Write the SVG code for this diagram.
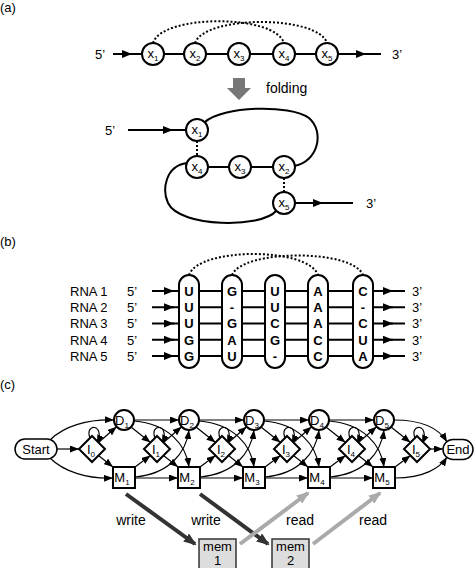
<svg xmlns="http://www.w3.org/2000/svg" xmlns:xlink="http://www.w3.org/1999/xlink" width="474" height="568" viewBox="0 0 474 568">
<style>
text,tspan{font-family:"Liberation Sans",Arial,sans-serif;fill:#000}
.t{font-size:13px}
.lbl{font-size:14px}
.c{text-anchor:middle}
.b{font-weight:bold;font-size:13px;text-anchor:middle}
.n{fill:#fff;stroke:#000;stroke-width:2}
.l{fill:none;stroke:#000;stroke-width:2}
.e{fill:none;stroke:#000;stroke-width:1.2}
.dot{fill:none;stroke:#000;stroke-width:2;stroke-dasharray:2 2}
.wr{fill:none;stroke:#333;stroke-width:4}
.rd{fill:none;stroke:#aaa;stroke-width:4}
.mem{fill:#ddd;stroke:#333;stroke-width:1.5}
</style>
<defs>
<marker id="ab" markerUnits="userSpaceOnUse" markerWidth="10" markerHeight="8" refX="10" refY="4" orient="auto"><path d="M0,0 L10,4 L0,8 Z" fill="#000"/></marker>
<marker id="as" markerUnits="userSpaceOnUse" markerWidth="9" markerHeight="7" refX="9" refY="3.5" orient="auto"><path d="M0,0 L9,3.5 L0,7 Z" fill="#000"/></marker>
<marker id="aw" markerUnits="userSpaceOnUse" markerWidth="13" markerHeight="10" refX="11" refY="5" orient="auto"><path d="M0,0 L13,5 L0,10 Z" fill="#333"/></marker>
<marker id="ar" markerUnits="userSpaceOnUse" markerWidth="13" markerHeight="10" refX="11" refY="5" orient="auto"><path d="M0,0 L13,5 L0,10 Z" fill="#aaa"/></marker>
</defs>

<!-- (a) -->
<text class="t" x="0" y="12">(a)</text>
<g id="connectors-a">
<line class="l" x1="113" y1="54" x2="132" y2="54" marker-end="url(#ab)"/>
<line class="l" x1="130" y1="54" x2="142" y2="54"/>
<line class="l" x1="164" y1="54" x2="184" y2="54"/>
<line class="l" x1="206" y1="54" x2="228" y2="54"/>
<line class="l" x1="250" y1="54" x2="273" y2="54"/>
<line class="l" x1="295" y1="54" x2="316" y2="54"/>
<line class="l" x1="338" y1="54" x2="366" y2="54" marker-end="url(#ab)"/>
<line class="l" x1="364" y1="54" x2="381" y2="54"/>
<path class="dot" d="M153,43 C162,14 275,14 284,43"/>
<path class="dot" d="M195,43 C205,15 318,15 327,43"/>
</g>
<text class="t c" x="100" y="59">5’</text>
<text class="t c" x="397" y="59">3’</text>
<g id="a-x1"><circle class="n" cx="153" cy="54" r="11"/><text class="t c" x="153" y="58">x<tspan font-size="8" dy="3">1</tspan></text></g>
<g id="a-x2"><circle class="n" cx="195" cy="54" r="11"/><text class="t c" x="195" y="58">x<tspan font-size="8" dy="3">2</tspan></text></g>
<g id="a-x3"><circle class="n" cx="239" cy="54" r="11"/><text class="t c" x="239" y="58">x<tspan font-size="8" dy="3">3</tspan></text></g>
<g id="a-x4"><circle class="n" cx="284" cy="54" r="11"/><text class="t c" x="284" y="58">x<tspan font-size="8" dy="3">4</tspan></text></g>
<g id="a-x5"><circle class="n" cx="327" cy="54" r="11"/><text class="t c" x="327" y="58">x<tspan font-size="8" dy="3">5</tspan></text></g>

<g id="folding-arrow"><path d="M233,78 H245 V88 H251 L239,100 L227,88 H233 Z" fill="#777"/></g>
<text class="lbl" x="266" y="93">folding</text>

<g id="connectors-a2">
<line class="l" x1="128" y1="130" x2="173" y2="130" marker-end="url(#ab)"/>
<line class="l" x1="171" y1="130" x2="186" y2="130"/>
<line class="l" x1="208" y1="167" x2="229" y2="167"/>
<line class="l" x1="251" y1="167" x2="273" y2="167"/>
<line class="dot" x1="197" y1="141" x2="197" y2="156"/>
<line class="dot" x1="284" y1="178" x2="284" y2="192"/>
<path class="l" d="M205,122 C222,106 290,104 309,118 C325,132 318,162 294,166"/>
<path class="l" d="M187,163 C165,166 162,190 168,203 C180,228 262,228 276,211"/>
<line class="l" x1="295" y1="203" x2="323" y2="203" marker-end="url(#ab)"/>
<line class="l" x1="321" y1="203" x2="353" y2="203"/>
</g>
<text class="t c" x="110" y="135">5’</text>
<text class="t c" x="371" y="208">3’</text>
<g id="b-x1"><circle class="n" cx="197" cy="130" r="11"/><text class="t c" x="197" y="134">x<tspan font-size="8" dy="3">1</tspan></text></g>
<g id="b-x4"><circle class="n" cx="197" cy="167" r="11"/><text class="t c" x="197" y="171">x<tspan font-size="8" dy="3">4</tspan></text></g>
<g id="b-x3"><circle class="n" cx="240" cy="167" r="11"/><text class="t c" x="240" y="171">x<tspan font-size="8" dy="3">3</tspan></text></g>
<g id="b-x2"><circle class="n" cx="284" cy="167" r="11"/><text class="t c" x="284" y="171">x<tspan font-size="8" dy="3">2</tspan></text></g>
<g id="b-x5"><circle class="n" cx="284" cy="203" r="11"/><text class="t c" x="284" y="207">x<tspan font-size="8" dy="3">5</tspan></text></g>

<!-- (b) -->
<text class="t" x="0" y="246">(b)</text>
<g id="connectors-b">
<path class="dot" d="M189,275 C199,247 308,247 318,275"/>
<path class="dot" d="M232,275 C243,249 353,249 363,275"/>
<g>
<line class="l" x1="152" y1="291" x2="174" y2="291" marker-end="url(#ab)"/><line class="l" x1="172" y1="291" x2="179" y2="291"/>
<line class="l" x1="152" y1="307.25" x2="174" y2="307.25" marker-end="url(#ab)"/><line class="l" x1="172" y1="307.25" x2="179" y2="307.25"/>
<line class="l" x1="152" y1="323.5" x2="174" y2="323.5" marker-end="url(#ab)"/><line class="l" x1="172" y1="323.5" x2="179" y2="323.5"/>
<line class="l" x1="152" y1="339.75" x2="174" y2="339.75" marker-end="url(#ab)"/><line class="l" x1="172" y1="339.75" x2="179" y2="339.75"/>
<line class="l" x1="152" y1="356" x2="174" y2="356" marker-end="url(#ab)"/><line class="l" x1="172" y1="356" x2="179" y2="356"/>
</g>
<g>
<line class="l" x1="199" y1="291" x2="222" y2="291"/><line class="l" x1="242" y1="291" x2="265" y2="291"/><line class="l" x1="285" y1="291" x2="308" y2="291"/><line class="l" x1="328" y1="291" x2="353" y2="291"/>
<line class="l" x1="199" y1="307.25" x2="222" y2="307.25"/><line class="l" x1="242" y1="307.25" x2="265" y2="307.25"/><line class="l" x1="285" y1="307.25" x2="308" y2="307.25"/><line class="l" x1="328" y1="307.25" x2="353" y2="307.25"/>
<line class="l" x1="199" y1="323.5" x2="222" y2="323.5"/><line class="l" x1="242" y1="323.5" x2="265" y2="323.5"/><line class="l" x1="285" y1="323.5" x2="308" y2="323.5"/><line class="l" x1="328" y1="323.5" x2="353" y2="323.5"/>
<line class="l" x1="199" y1="339.75" x2="222" y2="339.75"/><line class="l" x1="242" y1="339.75" x2="265" y2="339.75"/><line class="l" x1="285" y1="339.75" x2="308" y2="339.75"/><line class="l" x1="328" y1="339.75" x2="353" y2="339.75"/>
<line class="l" x1="199" y1="356" x2="222" y2="356"/><line class="l" x1="242" y1="356" x2="265" y2="356"/><line class="l" x1="285" y1="356" x2="308" y2="356"/><line class="l" x1="328" y1="356" x2="353" y2="356"/>
</g>
<g>
<line class="l" x1="373" y1="291" x2="393" y2="291" marker-end="url(#ab)"/><line class="l" x1="391" y1="291" x2="405" y2="291"/>
<line class="l" x1="373" y1="307.25" x2="393" y2="307.25" marker-end="url(#ab)"/><line class="l" x1="391" y1="307.25" x2="405" y2="307.25"/>
<line class="l" x1="373" y1="323.5" x2="393" y2="323.5" marker-end="url(#ab)"/><line class="l" x1="391" y1="323.5" x2="405" y2="323.5"/>
<line class="l" x1="373" y1="339.75" x2="393" y2="339.75" marker-end="url(#ab)"/><line class="l" x1="391" y1="339.75" x2="405" y2="339.75"/>
<line class="l" x1="373" y1="356" x2="393" y2="356" marker-end="url(#ab)"/><line class="l" x1="391" y1="356" x2="405" y2="356"/>
</g>
</g>
<g id="rna-labels">
<text class="t" x="70" y="296">RNA 1</text><text class="t c" x="132" y="296">5’</text><text class="t c" x="417" y="296">3’</text>
<text class="t" x="70" y="312">RNA 2</text><text class="t c" x="132" y="312">5’</text><text class="t c" x="417" y="312">3’</text>
<text class="t" x="70" y="328">RNA 3</text><text class="t c" x="132" y="328">5’</text><text class="t c" x="417" y="328">3’</text>
<text class="t" x="70" y="345">RNA 4</text><text class="t c" x="132" y="345">5’</text><text class="t c" x="417" y="345">3’</text>
<text class="t" x="70" y="361">RNA 5</text><text class="t c" x="132" y="361">5’</text><text class="t c" x="417" y="361">3’</text>
</g>
<g id="col1"><rect class="n" x="179" y="275" width="20" height="93" rx="10"/>
<text class="b" x="189" y="296">U</text><text class="b" x="189" y="312">U</text><text class="b" x="189" y="328">U</text><text class="b" x="189" y="345">G</text><text class="b" x="189" y="361">G</text></g>
<g id="col2"><rect class="n" x="222" y="275" width="20" height="93" rx="10"/>
<text class="b" x="232" y="296">G</text><text class="b" x="232" y="312">-</text><text class="b" x="232" y="328">G</text><text class="b" x="232" y="345">A</text><text class="b" x="232" y="361">U</text></g>
<g id="col3"><rect class="n" x="265" y="275" width="20" height="93" rx="10"/>
<text class="b" x="275" y="296">U</text><text class="b" x="275" y="312">U</text><text class="b" x="275" y="328">C</text><text class="b" x="275" y="345">G</text><text class="b" x="275" y="361">-</text></g>
<g id="col4"><rect class="n" x="308" y="275" width="20" height="93" rx="10"/>
<text class="b" x="318" y="296">A</text><text class="b" x="318" y="312">A</text><text class="b" x="318" y="328">A</text><text class="b" x="318" y="345">C</text><text class="b" x="318" y="361">C</text></g>
<g id="col5"><rect class="n" x="353" y="275" width="20" height="93" rx="10"/>
<text class="b" x="363" y="296">C</text><text class="b" x="363" y="312">-</text><text class="b" x="363" y="328">C</text><text class="b" x="363" y="345">U</text><text class="b" x="363" y="361">A</text></g>

<!-- (c) -->
<text class="t" x="0" y="389">(c)</text>
<g id="connectors-c">
<line class="e" x1="57" y1="449" x2="79" y2="449" marker-end="url(#as)"/>
<path class="e" d="M50,440 C64,426 88,419 114,420" marker-end="url(#as)"/>
<path class="e" d="M50,458 C64,472 88,479 113,478" marker-end="url(#as)"/>
<path class="e" d="M90,438 C84,423 106,423 97,444" marker-end="url(#as)"/>
<path class="e" d="M155,438 C149,423 171,423 162,444" marker-end="url(#as)"/>
<path class="e" d="M220,438 C214,423 236,423 227,444" marker-end="url(#as)"/>
<path class="e" d="M285,438 C279,423 301,423 292,444" marker-end="url(#as)"/>
<path class="e" d="M350,438 C344,423 366,423 357,444" marker-end="url(#as)"/>
<path class="e" d="M415,438 C409,423 431,423 422,444" marker-end="url(#as)"/>
<line class="e" x1="98.5" y1="442.5" x2="116.6" y2="426.7" marker-end="url(#as)"/>
<line class="e" x1="163.5" y1="442.5" x2="181.6" y2="426.7" marker-end="url(#as)"/>
<line class="e" x1="228.5" y1="442.5" x2="246.6" y2="426.7" marker-end="url(#as)"/>
<line class="e" x1="293.5" y1="442.5" x2="311.6" y2="426.7" marker-end="url(#as)"/>
<line class="e" x1="358.5" y1="442.5" x2="376.6" y2="426.7" marker-end="url(#as)"/>
<line class="e" x1="98.5" y1="455.5" x2="113" y2="467" marker-end="url(#as)"/>
<line class="e" x1="163.5" y1="455.5" x2="178" y2="467" marker-end="url(#as)"/>
<line class="e" x1="228.5" y1="455.5" x2="243" y2="467" marker-end="url(#as)"/>
<line class="e" x1="293.5" y1="455.5" x2="308" y2="467" marker-end="url(#as)"/>
<line class="e" x1="358.5" y1="455.5" x2="373" y2="467" marker-end="url(#as)"/>
<line class="e" x1="131" y1="427" x2="150.5" y2="442.5" marker-end="url(#as)"/>
<line class="e" x1="196" y1="427" x2="215.5" y2="442.5" marker-end="url(#as)"/>
<line class="e" x1="261" y1="427" x2="280.5" y2="442.5" marker-end="url(#as)"/>
<line class="e" x1="326" y1="427" x2="345.5" y2="442.5" marker-end="url(#as)"/>
<line class="e" x1="391" y1="427" x2="410.5" y2="442.5" marker-end="url(#as)"/>
<line class="e" x1="135" y1="467" x2="150.5" y2="455.5" marker-end="url(#as)"/>
<line class="e" x1="200" y1="467" x2="215.5" y2="455.5" marker-end="url(#as)"/>
<line class="e" x1="265" y1="467" x2="280.5" y2="455.5" marker-end="url(#as)"/>
<line class="e" x1="330" y1="467" x2="345.5" y2="455.5" marker-end="url(#as)"/>
<line class="e" x1="395" y1="467" x2="410.5" y2="455.5" marker-end="url(#as)"/>
<line class="e" x1="134" y1="420" x2="179" y2="420" marker-end="url(#as)"/>
<line class="e" x1="199" y1="420" x2="244" y2="420" marker-end="url(#as)"/>
<line class="e" x1="264" y1="420" x2="309" y2="420" marker-end="url(#as)"/>
<line class="e" x1="329" y1="420" x2="374" y2="420" marker-end="url(#as)"/>
<line class="e" x1="135" y1="478" x2="178" y2="478" marker-end="url(#as)"/>
<line class="e" x1="200" y1="478" x2="243" y2="478" marker-end="url(#as)"/>
<line class="e" x1="265" y1="478" x2="308" y2="478" marker-end="url(#as)"/>
<line class="e" x1="330" y1="478" x2="373" y2="478" marker-end="url(#as)"/>
<path class="e" d="M134,421 C169,424 186,445 189,467" marker-end="url(#as)"/>
<path class="e" d="M199,421 C234,424 251,445 254,467" marker-end="url(#as)"/>
<path class="e" d="M264,421 C299,424 316,445 319,467" marker-end="url(#as)"/>
<path class="e" d="M329,421 C364,424 381,445 384,467" marker-end="url(#as)"/>
<path class="e" d="M135,477 C169,474 186,453 189,430" marker-end="url(#as)"/>
<path class="e" d="M200,477 C234,474 251,453 254,430" marker-end="url(#as)"/>
<path class="e" d="M265,477 C299,474 316,453 319,430" marker-end="url(#as)"/>
<path class="e" d="M330,477 C364,474 381,453 384,430" marker-end="url(#as)"/>
<path class="e" d="M394,420 C424,420 440,430 447,442" marker-end="url(#as)"/>
<path class="e" d="M395,478 C424,478 440,468 447,457" marker-end="url(#as)"/>
<line class="e" x1="430" y1="449" x2="443" y2="449" marker-end="url(#as)"/>
<line class="wr" x1="126" y1="494" x2="195" y2="544" marker-end="url(#aw)"/>
<line class="wr" x1="200" y1="494" x2="268" y2="544" marker-end="url(#aw)"/>
<line class="rd" x1="240" y1="544" x2="308" y2="493" marker-end="url(#ar)"/>
<line class="rd" x1="313" y1="544" x2="380" y2="493" marker-end="url(#ar)"/>
</g>
<g id="start"><rect class="n" x="15" y="439" width="42" height="20" rx="10" style="stroke-width:1.5"/><text class="t c" x="36" y="454">Start</text></g>
<g id="end"><rect class="n" x="443" y="439.5" width="30" height="20" rx="10" style="stroke-width:1.5"/><text class="t c" x="458" y="454">End</text></g>
<g id="D1"><circle class="n" cx="124" cy="420" r="10"/><text class="t c" x="122" y="425">D<tspan font-size="8" dy="3">1</tspan></text></g>
<g id="D2"><circle class="n" cx="189" cy="420" r="10"/><text class="t c" x="187" y="425">D<tspan font-size="8" dy="3">2</tspan></text></g>
<g id="D3"><circle class="n" cx="254" cy="420" r="10"/><text class="t c" x="252" y="425">D<tspan font-size="8" dy="3">3</tspan></text></g>
<g id="D4"><circle class="n" cx="319" cy="420" r="10"/><text class="t c" x="317" y="425">D<tspan font-size="8" dy="3">4</tspan></text></g>
<g id="D5"><circle class="n" cx="384" cy="420" r="10"/><text class="t c" x="382" y="425">D<tspan font-size="8" dy="3">5</tspan></text></g>
<g id="I0"><path class="n" d="M92,436 L105,449 L92,462 L79,449 Z"/><text class="t c" x="91" y="454">I<tspan font-size="8" dy="3">0</tspan></text></g>
<g id="I1"><path class="n" d="M157,436 L170,449 L157,462 L144,449 Z"/><text class="t c" x="156" y="454">I<tspan font-size="8" dy="3">1</tspan></text></g>
<g id="I2"><path class="n" d="M222,436 L235,449 L222,462 L209,449 Z"/><text class="t c" x="221" y="454">I<tspan font-size="8" dy="3">2</tspan></text></g>
<g id="I3"><path class="n" d="M287,436 L300,449 L287,462 L274,449 Z"/><text class="t c" x="286" y="454">I<tspan font-size="8" dy="3">3</tspan></text></g>
<g id="I4"><path class="n" d="M352,436 L365,449 L352,462 L339,449 Z"/><text class="t c" x="351" y="454">I<tspan font-size="8" dy="3">4</tspan></text></g>
<g id="I5"><path class="n" d="M417,436 L430,449 L417,462 L404,449 Z"/><text class="t c" x="416" y="454">I<tspan font-size="8" dy="3">5</tspan></text></g>
<g id="M1"><rect class="n" x="113" y="467" width="22" height="21"/><text class="t c" x="122" y="482">M<tspan font-size="8" dy="3">1</tspan></text></g>
<g id="M2"><rect class="n" x="178" y="467" width="22" height="21"/><text class="t c" x="187" y="482">M<tspan font-size="8" dy="3">2</tspan></text></g>
<g id="M3"><rect class="n" x="243" y="467" width="22" height="21"/><text class="t c" x="252" y="482">M<tspan font-size="8" dy="3">3</tspan></text></g>
<g id="M4"><rect class="n" x="308" y="467" width="22" height="21"/><text class="t c" x="317" y="482">M<tspan font-size="8" dy="3">4</tspan></text></g>
<g id="M5"><rect class="n" x="373" y="467" width="22" height="21"/><text class="t c" x="382" y="482">M<tspan font-size="8" dy="3">5</tspan></text></g>
<text class="lbl c" x="131" y="525">write</text>
<text class="lbl c" x="206" y="525">write</text>
<text class="lbl c" x="300" y="525">read</text>
<text class="lbl c" x="373" y="525">read</text>
<g id="mem1"><rect class="mem" x="199" y="539" width="37" height="33"/><text class="t c" x="217.5" y="551">mem</text><text class="t c" x="217.5" y="565">1</text></g>
<g id="mem2"><rect class="mem" x="272" y="539" width="37" height="33"/><text class="t c" x="290.5" y="551">mem</text><text class="t c" x="290.5" y="565">2</text></g>
</svg>
